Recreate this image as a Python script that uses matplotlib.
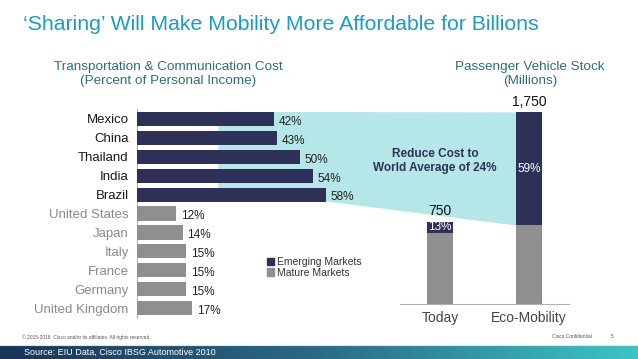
import numpy as np
import matplotlib
matplotlib.use("Agg")
import matplotlib.pyplot as plt
from matplotlib.patches import Polygon, Patch
from matplotlib.colors import LinearSegmentedColormap

# -----------------------------
# DATA
# -----------------------------
countries = ["Mexico", "China", "Thailand", "India", "Brazil",
             "United States", "Japan", "Italy", "France", "Germany", "United Kingdom"]
cost_pct = [42, 43, 50, 54, 58, 12, 14, 15, 15, 15, 17]
is_emerging = [True] * 5 + [False] * 6
world_avg = 24

stock_labels = ["Today", "Eco-Mobility"]
stock_total = [750, 1750]
emerging_share = [13, 59]

NAVY = "#2d3157"
GRAY = "#8f8f8f"
CYAN = "#b5e6e8"
TEAL = "#1b9cc0"
SUBT = "#2f6f78"
FONT = ["Liberation Sans", "DejaVu Sans"]

W, H = 638, 359
fig = plt.figure(figsize=(W / 100, H / 100), dpi=100)
fig.patch.set_facecolor("white")


def fx(px):
    return px / W


def fy(py):
    return 1 - py / H


# -----------------------------
# LEFT: cost bars
# -----------------------------
ax1 = fig.add_axes([fx(137), fy(317.5), fx(228), (317.5 - 109.5) / H])
ax1.set_zorder(2)
y = np.arange(len(countries))
colors = [NAVY if e else GRAY for e in is_emerging]
ax1.barh(y, cost_pct, height=0.75, color=colors, zorder=3)
ax1.set_xlim(0, 70)
ax1.set_ylim(len(countries) - 0.5, -0.5)
ax1.set_yticks(y)
ax1.set_yticklabels(countries, family=FONT, fontsize=9.5)
for lab, e in zip(ax1.get_yticklabels(), is_emerging):
    lab.set_color("#1a1a1a" if e else "#8a8a8a")
ax1.tick_params(axis="y", length=0, pad=6)
ax1.set_xticks([])
for s in ["top", "right", "bottom"]:
    ax1.spines[s].set_visible(False)
ax1.spines["left"].set_color("#b0b0b0")
ax1.spines["left"].set_linewidth(0.8)
ax1.patch.set_alpha(0)
for yi, v in zip(y, cost_pct):
    ax1.text(v + 1.5, yi + 0.15, f"{v}%", va="center", ha="left",
             family=FONT, fontsize=8.5, color="#222222", zorder=4)

ax1.legend(handles=[Patch(color=NAVY, label="Emerging Markets"),
                    Patch(color=GRAY, label="Mature Markets")],
           loc="upper left", bbox_to_anchor=(0.55, 0.31), frameon=False,
           handlelength=0.7, handleheight=0.7, handletextpad=0.3,
           labelspacing=0.05, borderaxespad=0,
           prop={"family": FONT, "size": 7.5}, labelcolor="#333333")

# -----------------------------
# RIGHT: vehicle stock
# -----------------------------
ax2 = fig.add_axes([fx(400), fy(304), fx(169), (304 - 85) / H])
ax2.set_zorder(2)
x2 = np.arange(len(stock_labels))
mature_part = [t * (100 - s) / 100 for t, s in zip(stock_total, emerging_share)]
emerg_part = [t * s / 100 for t, s in zip(stock_total, emerging_share)]
bw = 0.29
ax2.bar(x2, mature_part, width=bw, color=GRAY, zorder=3)
ax2.bar(x2, emerg_part, width=bw, bottom=mature_part, color=NAVY, zorder=3)
ax2.set_xlim(-0.45, 1.45)
ax2.set_ylim(0, 2000)
ax2.set_yticks([])
ax2.set_xticks(x2)
ax2.set_xticklabels(stock_labels, family=FONT, fontsize=10, color="#444444")
ax2.tick_params(axis="x", length=0, pad=5)
for s in ["top", "right", "left"]:
    ax2.spines[s].set_visible(False)
ax2.spines["bottom"].set_color("#b0b0b0")
ax2.spines["bottom"].set_linewidth(0.8)
ax2.patch.set_alpha(0)
for xi, t, m, e, s in zip(x2, stock_total, mature_part, emerg_part, emerging_share):
    ax2.text(xi, t + 35, f"{t:,}", ha="center", va="bottom",
             family=FONT, fontsize=10, color="#111111")
    ax2.text(xi, m + e / 2, f"{s}%", ha="center", va="center",
             family=FONT, fontsize=8.5, color="white", zorder=4)

# -----------------------------
# CYAN CONNECTOR
# -----------------------------
to_fig = fig.transFigure.inverted()
p_tl = to_fig.transform(ax1.transData.transform((25, -0.375)))
p_bl = to_fig.transform(ax1.transData.transform((25, 3.65)))
p_tr = to_fig.transform(ax2.transData.transform((1 - bw / 2, stock_total[1])))
p_br = to_fig.transform(ax2.transData.transform((1 - bw / 2, mature_part[1])))
fig.patches.append(Polygon([p_tl, p_tr, p_br, p_bl], closed=True,
                           transform=fig.transFigure, facecolor=CYAN,
                           edgecolor="none", zorder=1))
fig.text(fx(435), fy(161), f"Reduce Cost to\nWorld Average of {world_avg}%",
         ha="center", va="center", family=FONT, fontsize=8.5,
         fontweight="bold", color=NAVY, linespacing=1.15, zorder=3)

# -----------------------------
# TITLES
# -----------------------------
fig.text(fx(23), fy(25), "\u2018Sharing\u2019 Will Make Mobility More Affordable for Billions",
         ha="left", va="center", family=FONT, fontsize=15.3, color=TEAL)
fig.text(fx(168), fy(74), "Transportation & Communication Cost\n(Percent of Personal Income)",
         ha="center", va="center", family=FONT, fontsize=9.7, color=SUBT,
         linespacing=1.3)
fig.text(fx(530), fy(74), "Passenger Vehicle Stock\n(Millions)",
         ha="center", va="center", family=FONT, fontsize=9.7, color=SUBT,
         linespacing=1.3)

# -----------------------------
# FOOTER
# -----------------------------
fig.text(fx(22), fy(337), "\u00a9 2015-2016  Cisco and/or its affiliates. All rights reserved.",
         ha="left", va="center", family=FONT, fontsize=3.5, color="#555555")
fig.text(fx(592), fy(337), "Cisco Confidential", ha="right", va="center",
         family=FONT, fontsize=3.5, color="#555555")
fig.text(fx(612), fy(337), "5", ha="center", va="center",
         family=FONT, fontsize=3.5, color="#555555")

band = fig.add_axes([0, 0, 1, 14 / H])
cmap = LinearSegmentedColormap.from_list("band", ["#1b3457", "#2b6a86", "#3ec4c4"])
band.imshow(np.linspace(0, 1, 256)[None, :], aspect="auto", cmap=cmap,
            extent=[0, 1, 0, 1])
band.set_axis_off()
fig.add_artist(plt.Line2D([0, 1], [14 / H, 14 / H], transform=fig.transFigure,
                          color="#cfeff0", linewidth=0.8))
fig.text(fx(24), fy(352), "Source: EIU Data, Cisco IBSG Automotive 2010",
         ha="left", va="center", family=FONT, fontsize=6.5, color="white")

fig.savefig("out.png", dpi=100)
plt.close(fig)
